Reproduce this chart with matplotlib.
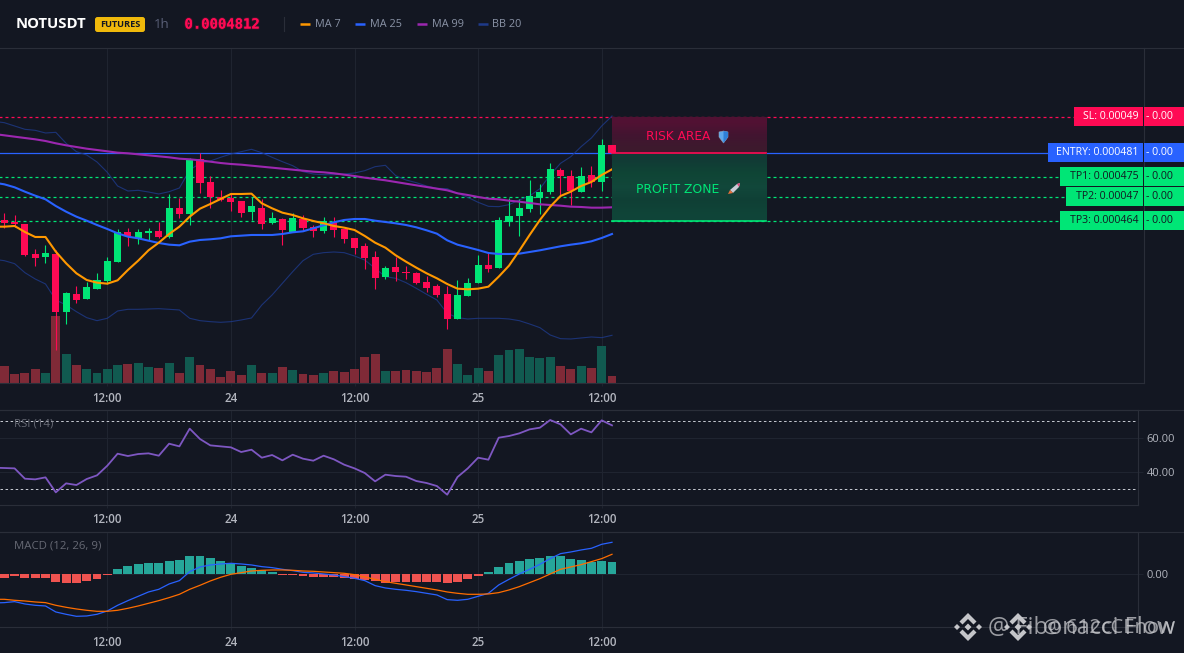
import numpy as np
import matplotlib
matplotlib.use("Agg")
import matplotlib.pyplot as plt
import matplotlib.patheffects as pe
from matplotlib.patches import Rectangle, Polygon, FancyBboxPatch
from matplotlib.transforms import blended_transform_factory

W, H = 1184, 653
BG = "#131722"
GRID = "#1f2430"
BORDER = "#2a2e39"
TXT = "#b2b5be"
RED = "#ff0a54"
GREEN = "#00e676"
BLUE = "#2962ff"

# hourly candles, prices in millionths of a USDT
opens = [464.25, 463.83, 463.25, 455.75, 455.0, 455.75, 441.25, 445.75, 444.5, 447.0,
         449.0, 453.75, 461.25, 459.75, 461.0, 461.5, 460.0, 467.25, 465.75, 479.5,
         473.75, 470.0, 469.83, 469.0, 466.25, 467.25, 463.5, 464.42, 461.25, 464.58,
         462.5, 461.5, 463.75, 462.0, 459.75, 457.75, 455.0, 450.0, 452.5, 451.25,
         451.0, 448.75, 447.75, 445.75, 439.5, 445.25, 448.5, 453.0, 452.25, 463.75,
         465.25, 467.0, 469.75, 471.25, 476.75, 475.25, 471.25, 475.5, 473.75, 483.0]
highs = [465.92, 465.5, 463.25, 457.0, 458.0, 456.75, 446.25, 447.75, 448.83, 451.0,
         455.0, 462.0, 462.25, 462.0, 462.25, 463.83, 470.75, 469.83, 479.75, 480.92,
         475.25, 471.75, 470.75, 469.0, 470.0, 469.5, 466.25, 464.75, 465.92, 465.5,
         463.0, 465.0, 465.0, 462.0, 459.75, 458.5, 456.5, 452.75, 455.0, 452.75,
         451.25, 450.25, 448.25, 447.75, 449.25, 449.75, 455.5, 456.0, 465.0, 469.75,
         469.5, 474.25, 473.25, 478.5, 477.25, 476.75, 477.5, 477.75, 484.5, 483.4]
lows = [462.17, 462.58, 455.33, 452.83, 453.58, 431.75, 438.33, 443.58, 444.5, 447.0,
        448.17, 453.75, 457.75, 458.25, 459.25, 459.75, 459.75, 464.83, 463.0, 471.0,
        467.25, 469.0, 466.5, 465.0, 464.25, 462.0, 463.25, 458.0, 461.25, 461.75,
        460.0, 461.0, 460.0, 458.5, 455.75, 452.0, 447.0, 449.5, 449.0, 449.5,
        448.25, 446.25, 445.0, 437.0, 439.5, 445.25, 448.5, 451.25, 452.25, 462.75,
        460.25, 466.25, 465.75, 470.75, 470.5, 468.0, 471.25, 472.5, 471.5, 479.7]
closes = [463.5, 463.25, 455.5, 454.83, 456.0, 441.25, 445.92, 444.25, 447.5, 449.25,
          454.0, 461.25, 460.25, 461.25, 461.5, 460.0, 467.25, 465.75, 479.25, 473.5,
          470.0, 469.25, 468.75, 466.0, 467.75, 463.25, 464.75, 461.75, 464.75, 462.25,
          461.5, 464.0, 461.75, 459.5, 457.25, 454.75, 449.75, 452.25, 451.25, 451.0,
          448.5, 447.25, 445.5, 439.5, 445.5, 448.5, 453.0, 452.0, 464.25, 465.25,
          467.25, 470.25, 471.25, 477.0, 475.25, 471.5, 475.25, 473.75, 483.0, 480.9]
volumes = [52, 28, 31, 43, 31, 202, 88, 55, 43, 31, 43, 55, 58, 61, 49, 46, 61, 31, 79, 55,
           43, 19, 37, 25, 55, 31, 31, 49, 40, 28, 25, 31, 37, 34, 43, 79, 88, 37, 37, 40,
           37, 34, 46, 103, 58, 25, 46, 37, 85, 100, 103, 79, 76, 79, 52, 43, 52, 46, 112, 22]

# indicator lines start one hour earlier, off the left edge
ma7 = [462.58, 462.58, 462.75, 461.25, 460.0, 460.0, 456.33, 453.42, 450.92, 449.25, 448.58,
       448.33, 449.17, 451.75, 454.08, 456.67, 458.58, 460.75, 462.58, 465.08, 467.08,
       468.25, 469.5, 470.75, 470.75, 470.83, 468.42, 467.17, 466.08, 465.5, 464.67,
       464.0, 463.42, 462.75, 462.33, 461.75, 460.25, 458.58, 457.33, 455.42, 453.83,
       452.33, 450.92, 449.67, 448.25, 447.08, 446.92, 447.08, 447.58, 450.08, 452.83,
       456.58, 460.5, 464.25, 467.58, 470.25, 471.33, 472.75, 473.75, 475.5, 476.92]
ma25 = [473.58, 473.17, 472.42, 471.33, 470.33, 469.42, 467.75, 466.33, 465.08, 464.08, 463.0,
        462.0, 460.92, 460.08, 459.67, 459.08, 458.5, 458.08, 457.92, 458.83, 459.25,
        459.42, 459.67, 460.17, 460.33, 460.5, 460.5, 460.5, 460.75, 461.17, 461.42,
        462.17, 462.92, 463.67, 464.25, 464.5, 464.5, 464.08, 463.75, 463.42, 463.0,
        462.42, 461.67, 460.83, 459.17, 458.08, 457.42, 456.75, 456.0, 455.75, 455.75,
        455.83, 456.25, 456.67, 457.17, 457.67, 458.08, 458.42, 458.92, 459.75, 460.75]
ma99 = [485.75, 485.42, 485.08, 484.75, 484.42, 484.0, 483.42, 482.92, 482.5, 482.08, 481.75,
        481.42, 481.08, 480.92, 480.67, 480.42, 480.17, 479.92, 479.58, 479.42, 479.17,
        478.83, 478.5, 478.25, 478.08, 477.83, 477.58, 477.33, 477.08, 476.83, 476.58,
        476.33, 476.17, 475.92, 475.58, 475.25, 474.83, 474.5, 474.17, 473.75, 473.33,
        472.92, 472.5, 472.08, 471.67, 470.92, 470.5, 470.0, 469.58, 469.42, 469.08,
        468.83, 468.5, 468.17, 468.0, 467.83, 467.58, 467.5, 467.33, 467.33, 467.42]
bb_upper = [488.92, 488.58, 487.75, 486.92, 486.67, 486.0, 486.17, 483.42, 481.33, 480.5, 478.75,
            476.17, 472.75, 471.5, 471.67, 471.25, 470.75, 471.33, 472.25, 476.75, 478.42,
            479.0, 479.92, 480.75, 481.33, 481.92, 481.08, 479.92, 478.83, 477.83, 476.33,
            475.75, 475.58, 475.58, 475.75, 476.0, 476.58, 477.58, 477.92, 475.33, 474.25,
            473.58, 472.75, 472.17, 472.08, 470.92, 469.92, 468.67, 467.67, 467.58, 468.08,
            469.25, 470.25, 472.08, 475.5, 478.42, 480.08, 482.58, 484.75, 487.75, 490.25]
bb_lower = [454.42, 454.08, 453.33, 451.08, 449.5, 448.25, 444.25, 443.0, 441.33, 439.83, 439.08,
            439.67, 441.5, 441.92, 441.92, 442.0, 442.08, 441.92, 441.75, 439.67, 439.08,
            438.83, 438.67, 438.83, 439.25, 439.75, 443.0, 445.5, 448.42, 451.33, 454.08,
            455.67, 456.08, 456.25, 456.08, 455.25, 454.25, 452.17, 450.08, 449.67, 448.58,
            447.17, 445.67, 444.25, 440.92, 439.83, 439.5, 439.67, 439.67, 439.67, 439.5,
            439.08, 438.25, 437.33, 435.5, 434.58, 434.5, 434.75, 435.0, 434.83, 435.42]
rsi = [42.75, 42.55, 42.35, 36.27, 35.88, 37.06, 28.24, 33.53, 32.55, 36.08, 38.24,
       43.92, 50.98, 49.61, 50.78, 51.18, 49.8, 56.86, 55.29, 65.69, 59.61,
       55.88, 55.29, 54.71, 51.96, 53.33, 48.63, 50.2, 47.06, 50.39, 48.04,
       46.86, 49.8, 47.65, 44.51, 42.35, 39.61, 34.71, 38.63, 37.84, 37.45,
       34.9, 33.73, 31.96, 26.86, 37.25, 42.35, 48.63, 47.45, 60.39, 61.37,
       62.94, 65.29, 66.27, 70.78, 68.24, 62.35, 65.69, 63.53, 70.59, 67.65]
macd_line = [-8.6, -8.5, -8.2, -8.9, -9.3, -9.5, -11.3, -12.0, -12.6, -12.5, -12.0,
             -11.0, -9.3, -7.9, -6.6, -5.3, -4.5, -2.9, -1.9, 0.8, 2.2,
             2.8, 3.1, 3.3, 3.1, 2.8, 2.3, 2.0, 1.5, 1.1, 0.6,
             0.4, 0.1, -0.2, -0.7, -1.2, -1.9, -3.4, -4.1, -4.5, -4.8,
             -5.2, -5.7, -6.2, -7.6, -7.8, -7.5, -6.6, -5.7, -3.2, -1.5,
             0.1, 1.5, 3.0, 4.7, 6.2, 6.7, 7.3, 7.8, 9.0, 9.6]
signal_line = [-7.5, -7.5, -7.8, -8.0, -8.3, -8.5, -9.3, -9.9, -10.4, -10.8, -11.1,
               -11.1, -10.8, -10.2, -9.5, -8.7, -7.9, -7.0, -6.0, -4.5, -3.3,
               -2.0, -0.9, 0.0, 0.5, 1.0, 1.2, 1.3, 1.3, 1.2, 1.0,
               0.9, 0.7, 0.5, 0.3, -0.1, -0.8, -1.5, -2.2, -2.7, -3.2,
               -3.7, -4.2, -4.7, -5.3, -5.7, -6.0, -6.0, -5.9, -5.5, -4.7,
               -3.7, -2.5, -1.3, 0.1, 1.5, 2.2, 2.9, 3.8, 4.7, 6.0]
macd_hist = [-1.1, -0.5, -1.1, -1.1, -1.1, -2.3, -2.6, -2.6, -2.0, -1.4,
             -0.2, 1.6, 2.5, 3.1, 3.4, 3.4, 4.0, 4.3, 5.5, 5.5,
             4.9, 4.0, 3.4, 2.5, 1.9, 1.3, 0.7, -0.2, -0.2, -0.5,
             -0.8, -0.8, -0.8, -1.1, -1.4, -1.7, -2.0, -2.6, -2.3, -2.3,
             -2.3, -2.3, -2.3, -2.6, -2.3, -1.4, -0.5, 0.7, 2.2, 3.4,
             4.0, 4.6, 4.9, 5.5, 5.5, 4.6, 4.3, 3.7, 4.0, 3.7]

# order levels and their labels
level_prices = [490, 481, 475, 470, 464]
level_names = ["SL: 0.00049", "ENTRY: 0.000481", "TP1: 0.000475", "TP2: 0.00047", "TP3: 0.000464"]
level_left = [1074, 1048, 1060, 1066, 1060]
level_colors = [RED, BLUE, GREEN, GREEN, GREEN]
level_text = ["white", "white", BG, BG, BG]

tick_hours = [10, 22, 34, 46, 58]
tick_labels = ["12:00", "24", "12:00", "25", "12:00"]
legend_names = ["MA 7", "MA 25", "MA 99", "BB 20"]
legend_colors = ["#ff9800", BLUE, "#9c27b0", "#1e3a8a"]

FONT = "Open Sans"
plt.rcParams["font.family"] = [FONT, "DejaVu Sans"]

fig = plt.figure(figsize=(W / 100, H / 100), dpi=100, facecolor=BG)


def fx(px):
    return px / W


def fy(py):
    return 1 - py / H


def panel(x0, x1, y0, y1):
    return fig.add_axes([fx(x0), fy(y1), fx(x1 - x0), (y1 - y0) / H], facecolor="none")


def hour_limits(right_px):
    return (0 - 4.3) / 10.3, (right_px - 4.3) / 10.3


def style_panel(ax):
    for side in ax.spines:
        ax.spines[side].set_color(BORDER)
        ax.spines[side].set_linewidth(0.8)
    ax.spines["left"].set_visible(False)
    ax.set_xticks(tick_hours)
    ax.set_xticklabels(tick_labels, fontsize=8.3, color=TXT, fontweight="semibold")
    ax.tick_params(axis="x", length=2.5, width=0.7, color=GRID, pad=3.6)
    ax.grid(axis="x", color=GRID, linewidth=0.8)
    ax.set_axisbelow(True)


def binance_logo(cx, cy, size=14, color="#d8d9dc"):
    # five pieces of the logo, in pixels around its centre
    pieces = [
        [(0, -3.5), (3.5, 0), (0, 3.5), (-3.5, 0)],
        [(-14, 0), (-11, -3), (-8, 0), (-11, 3)],
        [(14, 0), (11, -3), (8, 0), (11, 3)],
        [(0, -14), (8.5, -5.5), (5.5, -2.5), (0, -8), (-5.5, -2.5), (-8.5, -5.5)],
        [(0, 14), (8.5, 5.5), (5.5, 2.5), (0, 8), (-5.5, 2.5), (-8.5, 5.5)],
    ]
    scale = size / 14
    for piece in pieces:
        pts = [(fx(cx + a * scale), fy(cy + b * scale)) for a, b in piece]
        fig.add_artist(Polygon(pts, closed=True, facecolor=color, edgecolor="none",
                               alpha=0.9, transform=fig.transFigure))


candle_hours = np.arange(60)
line_hours = np.arange(-1, 60)
is_up = np.array(closes) >= np.array(opens)

# volume sits in its own axes under the candles
ax_vol = panel(0, 1144, 48, 383.3)
ax_vol.bar(candle_hours, volumes, width=0.87,
           color=["#115a50" if u else "#7f2a37" for u in is_up], zorder=2)
ax_vol.set_xlim(*hour_limits(1144))
ax_vol.set_ylim(0, 1006)
ax_vol.set_yticks([])
style_panel(ax_vol)
ax_vol.spines["top"].set_visible(False)

# price panel
ax = panel(0, 1144, 48, 383.3)
ax.set_xlim(*hour_limits(1144))
ax.set_ylim(423.42, 507.25)
ax.set_xticks([])
ax.set_yticks([])
for side in ax.spines:
    ax.spines[side].set_visible(False)

for price, col in zip(level_prices, level_colors):
    ls = "-" if col == BLUE else (0, (2.4, 2.4))
    ax.plot([-1, 106], [price, price], color=col, linewidth=0.9, linestyle=ls, zorder=1)

ax.plot(line_hours, bb_upper, color="#1e3a8a", linewidth=0.8, alpha=0.8, zorder=2)
ax.plot(line_hours, bb_lower, color="#1e3a8a", linewidth=0.8, alpha=0.8, zorder=2)

candle_colors = [GREEN if u else RED for u in is_up]
ax.vlines(candle_hours, lows, highs, colors=candle_colors, linewidth=0.8, zorder=3)
body_low = np.minimum(opens, closes)
body_high = np.maximum(opens, closes)
ax.bar(candle_hours, body_high - body_low, bottom=body_low, width=0.68,
       color=candle_colors, zorder=3)

ax.plot(line_hours, ma99, color="#9c27b0", linewidth=1.5, zorder=4)
ax.plot(line_hours, ma25, color=BLUE, linewidth=1.5, zorder=4)
ax.plot(line_hours, ma7, color="#ff9800", linewidth=1.5, zorder=4)

# risk and profit zones, faded vertically
zone_left, zone_right = 59, 74
risk_img = np.array([[[0.32, 0.07, 0.20]], [[0.26, 0.08, 0.19]], [[0.24, 0.10, 0.18]]])
profit_img = np.array([[[0.07, 0.23, 0.21]], [[0.06, 0.27, 0.21]], [[0.07, 0.28, 0.23]],
                       [[0.06, 0.25, 0.21]], [[0.06, 0.27, 0.22]]])
ax.imshow(risk_img, extent=[zone_left, zone_right, level_prices[1], level_prices[0]],
          aspect="auto", interpolation="bilinear", zorder=5)
ax.imshow(profit_img, extent=[zone_left, zone_right, level_prices[4], level_prices[1]],
          aspect="auto", interpolation="bilinear", zorder=5)
ax.set_xlim(*hour_limits(1144))
ax.set_ylim(423.42, 507.25)
ax.plot([zone_left, zone_right], [level_prices[1], level_prices[1]], color=RED, linewidth=1.2, zorder=6)
ax.plot([zone_left, zone_right], [level_prices[4], level_prices[4]], color=GREEN, linewidth=1.2, zorder=6)
ax.bar(candle_hours[-1], body_high[-1] - body_low[-1], bottom=body_low[-1], width=0.68,
       color=RED, zorder=6)

fig.text(fx(678.5), fy(137), "RISK AREA", color=RED, fontsize=8.7, ha="center", va="center",
         family=["DejaVu Sans"])
fig.text(fx(678), fy(189.5), "PROFIT ZONE", color=GREEN, fontsize=8.9, ha="center", va="center",
         family=["DejaVu Sans"])

# shield icon
fig.add_artist(Polygon([[fx(719), fy(132)], [fx(723.5), fy(131)], [fx(728), fy(132)], [fx(728), fy(137)],
                        [fx(723.5), fy(143)], [fx(719), fy(137)]], closed=True,
                       facecolor="#5ea8ec", edgecolor="#8fa3b8", linewidth=0.4,
                       transform=fig.transFigure))
fig.add_artist(Polygon([[fx(723.5), fy(131)], [fx(728), fy(132)], [fx(728), fy(137)], [fx(723.5), fy(143)]],
                       closed=True, facecolor="#2f7fd8", transform=fig.transFigure))
# rocket icon
fig.add_artist(Polygon([[fx(730), fy(190)], [fx(737), fy(184)], [fx(740), fy(183)], [fx(739), fy(187)],
                        [fx(733), fy(193)]], closed=True, facecolor="#c9ccd6",
                       transform=fig.transFigure))
fig.add_artist(Polygon([[fx(728), fy(194)], [fx(730), fy(190)], [fx(733), fy(193)]], closed=True,
                       facecolor="#e8703a", transform=fig.transFigure))
fig.add_artist(Polygon([[fx(737), fy(184)], [fx(740), fy(183)], [fx(739), fy(187)]], closed=True,
                       facecolor="#e0457b", transform=fig.transFigure))

# level tags on the right
tag_trans = blended_transform_factory(fig.transFigure, ax.transData)
tag_h = 19 / 4
for price, name, left, col, tcol in zip(level_prices, level_names, level_left, level_colors, level_text):
    fig.add_artist(Rectangle((fx(left), price - tag_h / 2), fx(1143.3 - left), tag_h, facecolor=col,
                             edgecolor="none", transform=tag_trans))
    fig.add_artist(Rectangle((fx(1144.3), price - tag_h / 2), fx(W - 1144.3), tag_h, facecolor=col,
                             edgecolor="none", transform=tag_trans))
    fig.text(fx(1138.5), price, name, color=tcol, fontsize=7.6, ha="right", va="center",
             transform=tag_trans, fontweight="medium")
    fig.text(fx(1146), price, "- 0.00", color=tcol, fontsize=7.7, ha="left", va="center",
             transform=tag_trans, fontweight="medium")

# rsi panel
ax_rsi = panel(0, 1138, 410.3, 505)
ax_rsi.set_xlim(*hour_limits(1138))
ax_rsi.set_ylim(20.8, 76.5)
style_panel(ax_rsi)
ax_rsi.grid(axis="y", color=GRID, linewidth=0.8)
ax_rsi.axhline(70, color="#c8ccd4", linewidth=0.7, linestyle=(0, (2.6, 2.6)))
ax_rsi.axhline(30, color="#c8ccd4", linewidth=0.7, linestyle=(0, (2.6, 2.6)))
ax_rsi.plot(line_hours, rsi, color="#7e57c2", linewidth=1.3)
ax_rsi.yaxis.tick_right()
ax_rsi.set_yticks([40, 60])
ax_rsi.set_yticklabels(["40.00", "60.00"], fontsize=8, color=TXT)
ax_rsi.tick_params(axis="y", length=3.5, width=0.7, color=GRID, pad=2.6)
fig.text(fx(14), fy(424), "RSI (14)", color="#666974", fontsize=8.2, va="center")

# macd panel
ax_macd = panel(0, 1138, 532.3, 627.3)
ax_macd.set_xlim(*hour_limits(1138))
ax_macd.set_ylim(-15.9, 12.6)
style_panel(ax_macd)
ax_macd.grid(axis="y", color=GRID, linewidth=0.8)
ax_macd.bar(candle_hours, macd_hist, width=0.87,
            color=["#26a69a" if v >= 0 else "#ef5350" for v in macd_hist], zorder=2)
ax_macd.plot(line_hours, macd_line, color=BLUE, linewidth=0.9, zorder=3)
ax_macd.plot(line_hours, signal_line, color="#ff6d00", linewidth=0.9, zorder=3)
ax_macd.yaxis.tick_right()
ax_macd.set_yticks([0])
ax_macd.set_yticklabels(["0.00"], fontsize=8, color=TXT)
ax_macd.tick_params(axis="y", length=3.5, width=0.7, color=GRID, pad=2.6)
fig.text(fx(14), fy(546), "MACD (12, 26, 9)", color="#666974", fontsize=8.2, va="center")

# panel separators that run to the edge
for py in [48, 410.3, 532.3]:
    fig.add_artist(plt.Line2D([0, 1], [fy(py), fy(py)], color=BORDER, linewidth=0.8))

# header row
fig.text(fx(16), fy(24.5), "NOTUSDT", color="white", fontsize=10.7, fontweight="bold", va="center")
fig.add_artist(FancyBboxPatch((96.5, H - 30.5), 47, 12, boxstyle="round,pad=1.5,rounding_size=2.5",
                              facecolor="#f0b90b", edgecolor="none", transform=None))
fig.text(fx(120), fy(24.5), "FUTURES", color=BG, fontsize=6.6, fontweight="bold", ha="center", va="center")
fig.text(fx(154), fy(24.5), "1h", color="#5a6078", fontsize=9.5, va="center")
fig.text(fx(184.5), fy(24.5), "0.0004812", color=RED, fontsize=10, fontweight="bold",
         family=["DejaVu Sans Mono"], va="center",
         path_effects=[pe.withStroke(linewidth=1.4, foreground="#ff0a5430")])
fig.add_artist(plt.Line2D([fx(284), fx(284)], [fy(17), fy(31)], color=BORDER, linewidth=0.8))
swatch_left = [300, 355, 417, 477.5]
for sx, name, col in zip(swatch_left, legend_names, legend_colors):
    fig.add_artist(plt.Line2D([fx(sx), fx(sx + 10)], [fy(24), fy(24)], color=col, linewidth=1.8,
                              solid_capstyle="butt"))
    fig.text(fx(sx + 15), fy(24.5), name, color="#8a93a6", fontsize=7.8, va="center")

# two overlapping watermarks
for mark_x, handle, text_x, size in [(968, "@ Fibonacci Flow", 988, 17), (1018, "@ 612cCEnow", 1043, 14.5)]:
    binance_logo(mark_x, 627)
    fig.text(fx(text_x), fy(627.5), handle, color="#c8c9cd", fontsize=size, va="center", alpha=0.75)

fig.savefig("out.png", dpi=100, facecolor=BG)
